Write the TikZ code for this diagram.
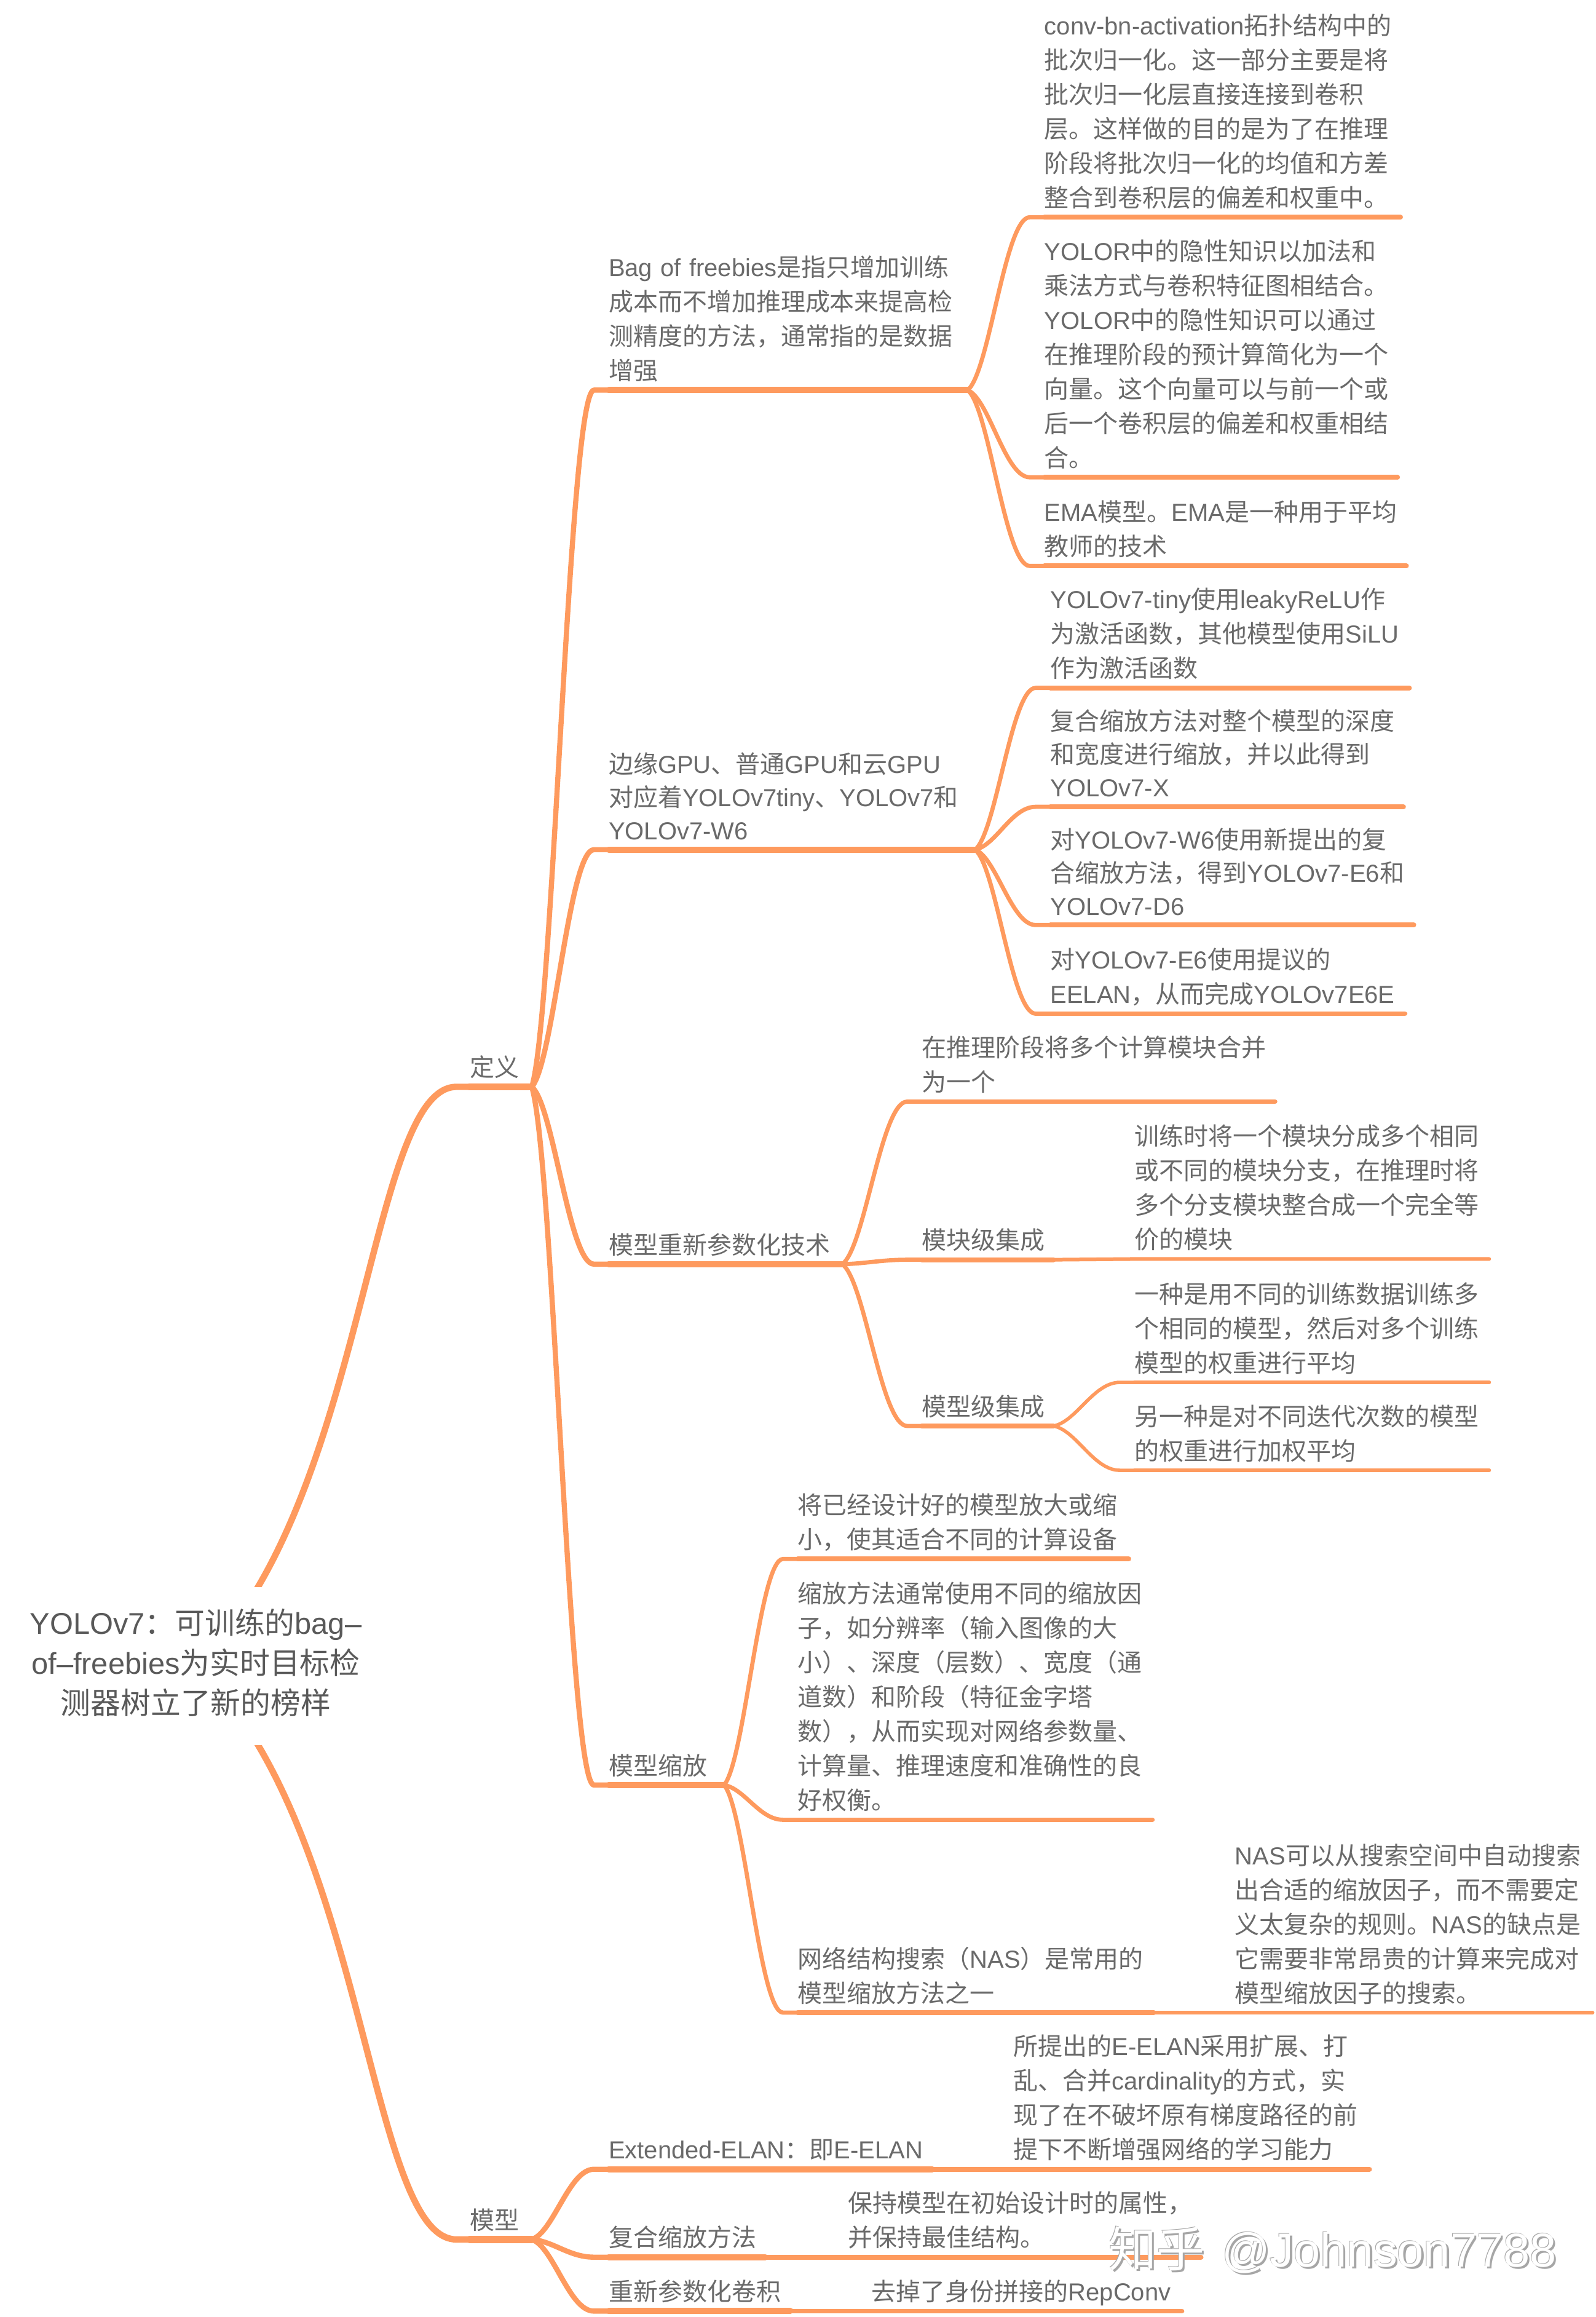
\documentclass[tikz,border=0pt]{standalone}
\usepackage{fontspec}
\usetikzlibrary{calc,backgrounds}
\setmainfont{Noto Sans CJK SC}
\newfontfamily\latfont{Liberation Sans}
\newcommand{\lat}[1]{{\latfont #1}}
\definecolor{branchc}{HTML}{FE9A5E}
\definecolor{textc}{HTML}{6A6A6A}
\definecolor{rootc}{HTML}{595959}
\definecolor{wmshadow}{HTML}{A6A6A6}
\newcommand{\wmstr}{知乎\hspace{7pt}\lat{\fontsize{19.4}{19.4}\selectfont @Johnson7788}}
\tikzset{
  topic/.style={anchor=south west,inner sep=0pt,outer sep=0pt,align=left,text=textc,
    font=\fontsize{10}{14}\selectfont,execute at begin node=\strut,execute at end node=\strut},
  tight/.style={font=\fontsize{10}{13.5}\selectfont},
  rootnode/.style={inner sep=0pt,outer sep=0pt,align=center,text=rootc,fill=white,
    text width=141pt,minimum height=64.3pt,
    font=\fontsize{12.2}{16.3}\selectfont,execute at begin node=\strut,execute at end node=\strut},
  ulA/.style={draw=branchc,line width=2.9pt,line cap=round},
  ulB/.style={draw=branchc,line width=2.5pt,line cap=round},
  ulC/.style={draw=branchc,line width=1.95pt,line cap=round},
  ulD/.style={draw=branchc,line width=1.5pt,line cap=round},
  cvA/.style={draw=branchc,line width=2.6pt,line join=round},
  cvB/.style={draw=branchc,line width=2.1pt,line join=round},
  cvC/.style={draw=branchc,line width=1.7pt,line join=round},
  cvD/.style={draw=branchc,line width=1.4pt,line join=round},
  mm/.style={to path={let \p1=(\tikztostart),\p2=(\tikztotarget),\n1={\x2-\x1},\n2={\y2-\y1} in
    .. controls ($(\p1)+(0.35*\n1,0.1*\n2)$) and ($(\p2)+(-0.4*\n1,0)$) .. (\tikztotarget)}},
}
\begin{document}
\begin{tikzpicture}[x=0.6009pt,y=-0.6009pt]
\useasboundingbox (0,0) rectangle (1080,1568);
% root
\node[rootnode] (root) at (132.5,1127.5) {\lat{YOLOv7}：可训练的\lat{bag–}\\\lat{of–freebies}为实时目标检\\测器树立了新的榜样};
% level 1
\node[topic,text width=25.2pt] (def) at (318,735.5) {定义};
\node[topic,text width=25.2pt] (mod) at (318,1515.5) {模型};
% definition branch
\node[topic,text width=146pt] (A) at (412,264) {\lat{Bag of freebies}是指只增加训练\\成本而不增加推理成本来提高检\\测精度的方法，通常指的是数据\\增强};
\node[topic,text width=144.8pt] (a1) at (707,147) {\lat{conv-bn-activation}拓扑结构中的\\批次归一化。这一部分主要是将\\批次归一化层直接连接到卷积\\层。这样做的目的是为了在推理\\阶段将批次归一化的均值和方差\\整合到卷积层的偏差和权重中。};
\node[topic,text width=143.6pt] (a2) at (707,323) {\lat{YOLOR}中的隐性知识以加法和\\乘法方式与卷积特征图相结合。\\\lat{YOLOR}中的隐性知识可以通过\\在推理阶段的预计算简化为一个\\向量。这个向量可以与前一个或\\后一个卷积层的偏差和权重相结\\合。};
\node[topic,text width=147.2pt] (a3) at (707,383) {\lat{EMA}模型。\lat{EMA}是一种用于平均\\教师的技术};
\node[topic,tight,text width=149pt] (B) at (412,575) {边缘\lat{GPU}、普通\lat{GPU}和云\lat{GPU}\\对应着\lat{YOLOv7tiny}、\lat{YOLOv7}和\\\lat{YOLOv7-W6}};
\node[topic,text width=146pt] (b1) at (711,465.5) {\lat{YOLOv7-tiny}使用\lat{leakyReLU}作\\为激活函数，其他模型使用\lat{SiLU}\\作为激活函数};
\node[topic,tight,text width=143.6pt] (b2) at (711,546) {复合缩放方法对整个模型的深度\\和宽度进行缩放，并以此得到\\\lat{YOLOv7-X}};
\node[topic,tight,text width=147.8pt] (b3) at (711,626) {对\lat{YOLOv7-W6}使用新提出的复\\合缩放方法，得到\lat{YOLOv7-E6}和\\\lat{YOLOv7-D6}};
\node[topic,text width=144.2pt] (b4) at (711,686) {对\lat{YOLOv7-E6}使用提议的\\\lat{EELAN}，从而完成\lat{YOLOv7E6E}};
\node[topic,text width=95pt] (C) at (412,855.5) {模型重新参数化技术};
\node[topic,text width=143.6pt] (c1) at (624,745.5) {在推理阶段将多个计算模块合并\\为一个};
\node[topic,text width=53.5pt] (c2) at (624,852.5) {模块级集成};
\node[topic,text width=144.2pt] (c21) at (768,852) {训练时将一个模块分成多个相同\\或不同的模块分支，在推理时将\\多个分支模块整合成一个完全等\\价的模块};
\node[topic,text width=53.5pt] (c3) at (624,965) {模型级集成};
\node[topic,text width=144.2pt] (c31) at (768,935.5) {一种是用不同的训练数据训练多\\个相同的模型，然后对多个训练\\模型的权重进行平均};
\node[topic,text width=144.2pt] (c32) at (768,995) {另一种是对不同迭代次数的模型\\的权重进行加权平均};
\node[topic,text width=46.9pt] (D) at (412,1208) {模型缩放};
\node[topic,text width=134.6pt] (d1) at (540,1055) {将已经设计好的模型放大或缩\\小，使其适合不同的计算设备};
\node[topic,text width=144.2pt] (d2) at (540,1231.5) {缩放方法通常使用不同的缩放因\\子，如分辨率（输入图像的大\\小）、深度（层数）、宽度（通\\道数）和阶段（特征金字塔\\数），从而实现对网络参数量、\\计算量、推理速度和准确性的良\\好权衡。};
\node[topic,text width=144.8pt] (d3) at (540,1362) {网络结构搜索（\lat{NAS}）是常用的\\模型缩放方法之一};
\node[topic,text width=145.4pt] (d31) at (836,1362) {\lat{NAS}可以从搜索空间中自动搜索\\出合适的缩放因子，而不需要定\\义太复杂的规则。\lat{NAS}的缺点是\\它需要非常昂贵的计算来完成对\\模型缩放因子的搜索。};
% model branch
\node[topic,text width=131.6pt] (E) at (412,1468) {\lat{Extended-ELAN}：即\lat{E-ELAN}};
\node[topic,text width=144.8pt] (e1) at (686,1468) {所提出的\lat{E-ELAN}采用扩展、打\\乱、合并\lat{cardinality}的方式，实\\现了在不破坏原有梯度路径的前\\提下不断增强网络的学习能力};
\node[topic,text width=63.7pt] (F) at (412,1527.5) {复合缩放方法};
\node[topic,text width=143.6pt] (f1) at (574,1527.5) {保持模型在初始设计时的属性，\\并保持最佳结构。};
\node[topic,text width=73.9pt] (G) at (412,1564) {重新参数化卷积};
\node[topic,text width=126.2pt] (g1) at (590,1564) {去掉了身份拼接的\lat{RepConv}};
% watermark
\node[anchor=west,inner sep=0pt,font=\fontsize{19.5}{20}\selectfont] (wm) at (750,1523) {\rlap{\hspace{0.8pt}\raisebox{-0.8pt}{\textcolor{wmshadow}{\wmstr}}}\rlap{\hspace{-0.25pt}\raisebox{0.25pt}{\textcolor{wmshadow}{\wmstr}}}\textcolor{white}{\wmstr}};
% connectors
\begin{pgfonlayer}{background}
\fill[white] (0,0) rectangle (1080,1568);
\draw[cvA] (root.center) .. controls +(115,-105) and +(-60,0) .. ([xshift=-5.4pt]def.south west) -- (def.south west);
\draw[cvA] (root.center) .. controls +(115,105) and +(-60,0) .. ([xshift=-5.4pt]mod.south west) -- (mod.south west);
\foreach \t in {def,mod} \draw[ulA] (\t.south west) -- (\t.south east);
\foreach \t in {A,B,C,D} {\draw[cvB] (def.south east) to[mm] ([xshift=-6pt]\t.south west) -- (\t.south west);}
\foreach \t in {E,F,G} {\draw[cvB] (mod.south east) to[mm] ([xshift=-6pt]\t.south west) -- (\t.south west);}
\foreach \t in {A,B,C,D,E,F,G} \draw[ulB] (\t.south west) -- (\t.south east);
\foreach \t in {a1,a2,a3} {\draw[cvC] (A.south east) to[mm] ([xshift=-6pt]\t.south west) -- (\t.south west);}
\foreach \t in {b1,b2,b3,b4} {\draw[cvC] (B.south east) to[mm] ([xshift=-6pt]\t.south west) -- (\t.south west);}
\foreach \t in {c1,c2,c3} {\draw[cvC] (C.south east) to[mm] ([xshift=-6pt]\t.south west) -- (\t.south west);}
\foreach \t in {d1,d2,d3} {\draw[cvC] (D.south east) to[mm] ([xshift=-6pt]\t.south west) -- (\t.south west);}
\foreach \t in {a1,a2,a3,b1,b2,b3,b4,c1,c2,c3,d1,d2,d3} \draw[ulC] (\t.south west) -- (\t.south east);
\draw[ulC] (E.south east) -- (e1.south west) -- (e1.south east);
\draw[ulC] (F.south east) -- (f1.south west) -- (f1.south east);
\draw[ulC] (G.south east) -- (g1.south west) -- (g1.south east);
\draw[ulD] (c2.south east) -- (c21.south west) -- (c21.south east);
\draw[ulD] (d3.south east) -- (d31.south west) -- (d31.south east);
\foreach \t in {c31,c32} {\draw[cvD] (c3.south east) to[mm] ([xshift=-6pt]\t.south west) -- (\t.south west);}
\foreach \t in {c31,c32} \draw[ulD] (\t.south west) -- (\t.south east);
\end{pgfonlayer}
\end{tikzpicture}
\end{document}
